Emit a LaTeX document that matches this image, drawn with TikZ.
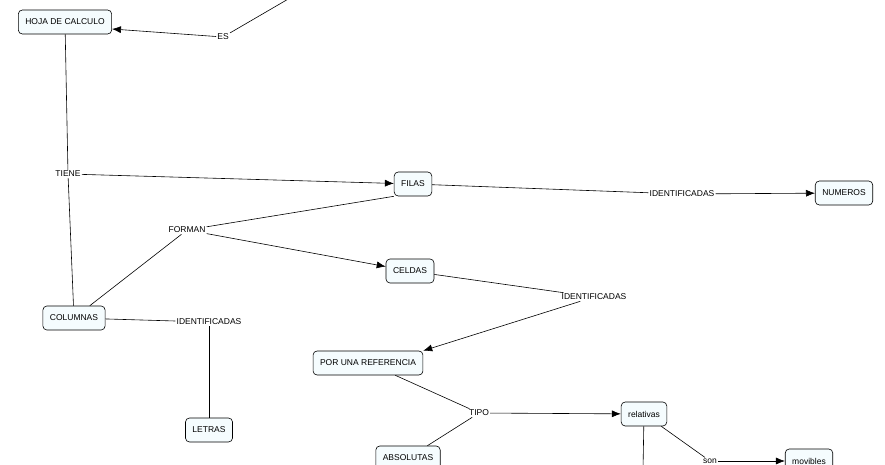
\documentclass[tikz,border=0pt]{standalone}
\usepackage{fontspec}
\setmainfont{Liberation Sans}
\usetikzlibrary{arrows.meta}
\begin{document}
\begin{tikzpicture}[x=1pt,y=-1pt,line width=0.6pt,
  concept/.style={draw=black,rounded corners=4pt,fill=gray!8!cyan!4,inner xsep=7pt,minimum height=24pt,font=\fontsize{8.5}{10}\selectfont},
  lbl/.style={fill=white,inner sep=1pt,font=\fontsize{8.5}{10}\selectfont},
  arr/.style={-{Latex[length=9pt,width=7pt]}}]
\useasboundingbox (0,0) rectangle (885,465);
\clip (0,0) rectangle (885,465);
\coordinate (top) at (290,-2);
\coordinate (bot) at (643,470);
\node[concept] (hoja) at (65,22) {HOJA DE CALCULO};
\node[concept] (filas) at (413,184) {FILAS};
\node[concept] (num) at (844,193) {NUMEROS};
\node[concept] (celdas) at (410,271) {CELDAS};
\node[concept] (col) at (74,318) {COLUMNAS};
\node[concept] (letras) at (209,430) {LETRAS};
\node[concept] (ref) at (368,363) {POR UNA REFERENCIA};
\node[concept] (rel) at (644,414) {relativas};
\node[concept] (abs) at (408,458) {ABSOLUTAS};
\node[concept] (mov) at (809,461) {movibles};
\node[lbl] (es) at (223,37) {ES};
\node[lbl] (tiene) at (68,174) {TIENE};
\node[lbl] (id1) at (682,194) {IDENTIFICADAS};
\node[lbl] (forman) at (187,230) {FORMAN};
\node[lbl] (id2) at (594,297) {IDENTIFICADAS};
\node[lbl] (id3) at (209,322) {IDENTIFICADAS};
\node[lbl] (tipo) at (479,413) {TIPO};
\node[lbl] (son) at (710,461) {son};
\draw (top) -- (es); \draw[arr] (es) -- (hoja.east |- 0,29);
\draw (hoja) -- (tiene); \draw (tiene) -- (col);
\draw[arr] (tiene) -- (filas);
\draw (filas) -- (id1); \draw[arr] (id1) -- (num);
\draw (col) -- (forman); \draw (forman) -- (filas.south west);
\draw[arr] (forman) -- (celdas);
\draw (celdas) -- (id2); \draw[arr] (id2) -- (ref.north east);
\draw (col) -- (id3); \draw (id3) -- (letras);
\draw (ref) -- (tipo); \draw[arr] (tipo) -- (rel); \draw (tipo) -- (abs);
\draw (rel) -- (son); \draw[arr] (son) -- (mov);
\draw (rel) -- (bot);
\end{tikzpicture}
\end{document}
